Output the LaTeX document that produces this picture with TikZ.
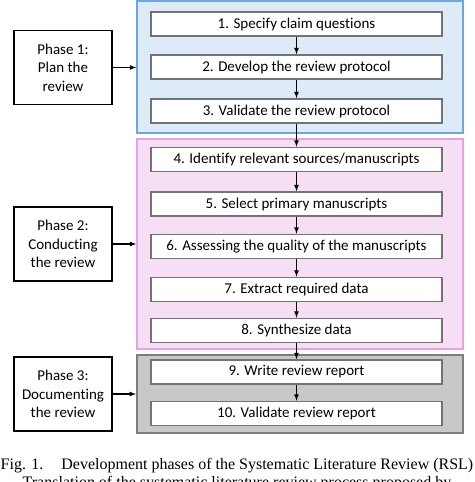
\documentclass[tikz,border=0pt]{standalone}
\usepackage{fontspec}
\setmainfont{Carlito}[RawFeature={-liga}]
\newfontfamily\capfont{Liberation Serif}
\usepackage{tikz}
\usetikzlibrary{arrows, positioning}
\usepackage{xcolor}
\definecolor{planfill}{RGB}{221,234,247}
\definecolor{planline}{RGB}{110,165,220}
\definecolor{condfill}{RGB}{246,222,244}
\definecolor{condline}{RGB}{234,160,228}
\definecolor{docfill}{RGB}{200,200,200}
\definecolor{docline}{RGB}{125,125,125}
\definecolor{boxline}{RGB}{115,115,115}

\begin{document}
\begin{tikzpicture}[x=1pt, y=-1pt, font=\fontsize{15}{18.5}\selectfont,
    stepbox/.style={draw=boxline, line width=1.5pt, fill=white, minimum width=291pt, minimum height=24pt, inner sep=0pt},
    phasebox/.style={draw, line width=1.8pt, fill=white, minimum width=98pt, minimum height=74pt, align=center, inner sep=0pt},
    groupbox/.style={line width=1.5pt, minimum width=326pt, inner sep=0pt},
    flow/.style={-latex, line width=1.2pt}]
    \useasboundingbox (0, 0) rectangle (474, 482);
    % Groups
    \node [groupbox, draw=planline, fill=planfill, minimum height=132pt] (g1) at (300, 67) {};
    \node [groupbox, draw=condline, fill=condfill, minimum height=210pt] (g2) at (300, 244) {};
    \node [groupbox, draw=docline, fill=docfill, line width=2pt, minimum height=78pt] (g3) at (300, 394) {};
    % Steps
    \node [stepbox] (s1) at (296.5, 24) {1. Specify claim questions};
    \node [stepbox] (s2) at (296.5, 67) {2. Develop the review protocol};
    \node [stepbox] (s3) at (296.5, 111) {3. Validate the review protocol};
    \node [stepbox] (s4) at (296.5, 159.5) {4. Identify relevant sources/manuscripts};
    \node [stepbox] (s5) at (296.5, 204) {5. Select primary manuscripts};
    \node [stepbox] (s6) at (296.5, 246.5) {6. Assessing the quality of the manuscripts};
    \node [stepbox] (s7) at (296.5, 289.5) {7. Extract required data};
    \node [stepbox] (s8) at (296.5, 330.5) {8. Synthesize data};
    \node [stepbox] (s9) at (296.5, 372) {9. Write review report};
    \node [stepbox] (s10) at (296.5, 413.5) {10. Validate review report};
    % Phases
    \node [phasebox] (p1) at (63, 67.5) {Phase 1:\\Plan the\\review};
    \node [phasebox] (p2) at (63, 244) {Phase 2:\\Conducting\\the review};
    \node [phasebox] (p3) at (63, 394) {Phase 3:\\Documenting\\the review};
    % Arrows
    \foreach \a/\b in {s1/s2, s2/s3, s3/s4, s4/s5, s5/s6, s6/s7, s7/s8, s8/s9, s9/s10}
        \draw [flow] (\a) -- (\b);
    \draw [flow] (p1) -- (p1 -| g1.west);
    \draw [flow] (p2) -- (p2 -| g2.west);
    \draw [flow] (p3) -- (p3 -| g3.west);
    % Caption
    \node [font=\capfont\fontsize{16}{17.5}\selectfont, align=center, anchor=north] (cap) at (237, 455)
        {Fig. 1.\hskip 18pt Development phases of the Systematic Literature Review (RSL)\\
         Translation of the systematic literature review process proposed by};
\end{tikzpicture}
\end{document}
